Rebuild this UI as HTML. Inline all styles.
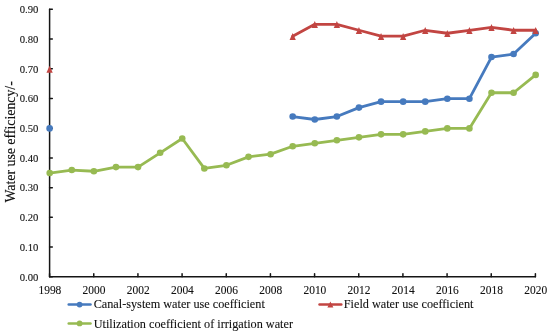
<!DOCTYPE html>
<html lang="en"><head><meta charset="utf-8"><title>Water use efficiency</title>
<style>html,body{margin:0;padding:0;background:#fff;width:550px;height:333px;overflow:hidden}</style></head>
<body>
<svg width="550" height="333" viewBox="0 0 550 333" style="display:block;position:absolute;left:0;top:0">
<rect width="550" height="333" fill="#fff"/>
<g stroke="#151515" stroke-width="1.5" fill="none" stroke-linecap="round" stroke-linejoin="round">
<polyline points="49.6,9.32 49.6,276.8 535.40,276.8"/>
<line x1="49.6" y1="276.80" x2="52.300000000000004" y2="276.80"/>
<line x1="49.6" y1="247.08" x2="52.300000000000004" y2="247.08"/>
<line x1="49.6" y1="217.36" x2="52.300000000000004" y2="217.36"/>
<line x1="49.6" y1="187.64" x2="52.300000000000004" y2="187.64"/>
<line x1="49.6" y1="157.92" x2="52.300000000000004" y2="157.92"/>
<line x1="49.6" y1="128.20" x2="52.300000000000004" y2="128.20"/>
<line x1="49.6" y1="98.48" x2="52.300000000000004" y2="98.48"/>
<line x1="49.6" y1="68.76" x2="52.300000000000004" y2="68.76"/>
<line x1="49.6" y1="39.04" x2="52.300000000000004" y2="39.04"/>
<line x1="49.6" y1="9.32" x2="52.300000000000004" y2="9.32"/>
<line x1="49.60" y1="276.8" x2="49.60" y2="273.7"/>
<line x1="93.76" y1="276.8" x2="93.76" y2="273.7"/>
<line x1="137.93" y1="276.8" x2="137.93" y2="273.7"/>
<line x1="182.09" y1="276.8" x2="182.09" y2="273.7"/>
<line x1="226.26" y1="276.8" x2="226.26" y2="273.7"/>
<line x1="270.42" y1="276.8" x2="270.42" y2="273.7"/>
<line x1="314.58" y1="276.8" x2="314.58" y2="273.7"/>
<line x1="358.75" y1="276.8" x2="358.75" y2="273.7"/>
<line x1="402.91" y1="276.8" x2="402.91" y2="273.7"/>
<line x1="447.08" y1="276.8" x2="447.08" y2="273.7"/>
<line x1="491.24" y1="276.8" x2="491.24" y2="273.7"/>
<line x1="535.40" y1="276.8" x2="535.40" y2="273.7"/>
</g>
<g font-family="'Liberation Serif', 'Times New Roman', serif" fill="#111" stroke="#111" stroke-width="0.1">
<text x="38.3" y="280.65" text-anchor="end" font-size="10.67">0.00</text>
<text x="38.3" y="250.93" text-anchor="end" font-size="10.67">0.10</text>
<text x="38.3" y="221.21" text-anchor="end" font-size="10.67">0.20</text>
<text x="38.3" y="191.49" text-anchor="end" font-size="10.67">0.30</text>
<text x="38.3" y="161.77" text-anchor="end" font-size="10.67">0.40</text>
<text x="38.3" y="132.05" text-anchor="end" font-size="10.67">0.50</text>
<text x="38.3" y="102.33" text-anchor="end" font-size="10.67">0.60</text>
<text x="38.3" y="72.61" text-anchor="end" font-size="10.67">0.70</text>
<text x="38.3" y="42.89" text-anchor="end" font-size="10.67">0.80</text>
<text x="38.3" y="13.17" text-anchor="end" font-size="10.67">0.90</text>
<text transform="translate(49.90,294.45) scale(0.955,1)" text-anchor="middle" font-size="12">1998</text>
<text transform="translate(94.06,294.45) scale(0.955,1)" text-anchor="middle" font-size="12">2000</text>
<text transform="translate(138.23,294.45) scale(0.955,1)" text-anchor="middle" font-size="12">2002</text>
<text transform="translate(182.39,294.45) scale(0.955,1)" text-anchor="middle" font-size="12">2004</text>
<text transform="translate(226.56,294.45) scale(0.955,1)" text-anchor="middle" font-size="12">2006</text>
<text transform="translate(270.72,294.45) scale(0.955,1)" text-anchor="middle" font-size="12">2008</text>
<text transform="translate(314.88,294.45) scale(0.955,1)" text-anchor="middle" font-size="12">2010</text>
<text transform="translate(359.05,294.45) scale(0.955,1)" text-anchor="middle" font-size="12">2012</text>
<text transform="translate(403.21,294.45) scale(0.955,1)" text-anchor="middle" font-size="12">2014</text>
<text transform="translate(447.38,294.45) scale(0.955,1)" text-anchor="middle" font-size="12">2016</text>
<text transform="translate(491.54,294.45) scale(0.955,1)" text-anchor="middle" font-size="12">2018</text>
<text transform="translate(535.70,294.45) scale(0.955,1)" text-anchor="middle" font-size="12">2020</text>
</g>
<g transform="translate(14.5,202.6) rotate(-90)" font-family="'Liberation Serif', 'Times New Roman', serif" font-size="13.66" fill="#111" stroke="#111" stroke-width="0.15"><text transform="scale(1.012,1)">Water use efficiency/-</text></g>
<polyline points="292.69,116.53 314.78,119.50 336.87,116.53 358.96,107.60 381.05,101.65 403.14,101.65 425.23,101.65 447.32,98.68 469.41,98.68 491.50,57.04 513.59,54.06 535.68,33.24" fill="none" stroke="#467abe" stroke-width="2.8" stroke-linejoin="round" stroke-linecap="round"/>
<circle cx="292.69" cy="116.53" r="3.3" fill="#467abe"/>
<circle cx="314.78" cy="119.50" r="3.3" fill="#467abe"/>
<circle cx="336.87" cy="116.53" r="3.3" fill="#467abe"/>
<circle cx="358.96" cy="107.60" r="3.3" fill="#467abe"/>
<circle cx="381.05" cy="101.65" r="3.3" fill="#467abe"/>
<circle cx="403.14" cy="101.65" r="3.3" fill="#467abe"/>
<circle cx="425.23" cy="101.65" r="3.3" fill="#467abe"/>
<circle cx="447.32" cy="98.68" r="3.3" fill="#467abe"/>
<circle cx="469.41" cy="98.68" r="3.3" fill="#467abe"/>
<circle cx="491.50" cy="57.04" r="3.3" fill="#467abe"/>
<circle cx="513.59" cy="54.06" r="3.3" fill="#467abe"/>
<circle cx="535.68" cy="33.24" r="3.3" fill="#467abe"/>
<circle cx="49.60" cy="128.42" r="3.3" fill="#467abe"/>
<polyline points="292.69,36.22 314.78,24.32 336.87,24.32 358.96,30.27 381.05,36.22 403.14,36.22 425.23,30.27 447.32,33.24 469.41,30.27 491.50,27.29 513.59,30.27 535.68,30.27" fill="none" stroke="#c24542" stroke-width="2.8" stroke-linejoin="round" stroke-linecap="round"/>
<polygon points="292.69,33.02 295.84,39.92 289.54,39.92" fill="#c24542"/>
<polygon points="314.78,21.12 317.93,28.02 311.63,28.02" fill="#c24542"/>
<polygon points="336.87,21.12 340.02,28.02 333.72,28.02" fill="#c24542"/>
<polygon points="358.96,27.07 362.11,33.97 355.81,33.97" fill="#c24542"/>
<polygon points="381.05,33.02 384.20,39.92 377.90,39.92" fill="#c24542"/>
<polygon points="403.14,33.02 406.29,39.92 399.99,39.92" fill="#c24542"/>
<polygon points="425.23,27.07 428.38,33.97 422.08,33.97" fill="#c24542"/>
<polygon points="447.32,30.04 450.47,36.94 444.17,36.94" fill="#c24542"/>
<polygon points="469.41,27.07 472.56,33.97 466.26,33.97" fill="#c24542"/>
<polygon points="491.50,24.09 494.65,30.99 488.35,30.99" fill="#c24542"/>
<polygon points="513.59,27.07 516.74,33.97 510.44,33.97" fill="#c24542"/>
<polygon points="535.68,27.07 538.83,33.97 532.53,33.97" fill="#c24542"/>
<polygon points="49.60,65.73 52.75,72.64 46.45,72.64" fill="#c24542"/>
<polyline points="49.70,173.04 71.79,170.07 93.88,171.26 115.97,167.09 138.06,167.09 160.15,152.82 182.24,138.54 204.33,168.43 226.42,165.31 248.51,156.83 270.60,154.18 292.69,146.27 314.78,143.30 336.87,140.32 358.96,137.35 381.05,134.37 403.14,134.37 425.23,131.40 447.32,128.42 469.41,128.42 491.50,92.73 513.59,92.73 535.68,74.88" fill="none" stroke="#97ba52" stroke-width="2.8" stroke-linejoin="round" stroke-linecap="round"/>
<circle cx="49.70" cy="173.04" r="3.3" fill="#97ba52"/>
<circle cx="71.79" cy="170.07" r="3.3" fill="#97ba52"/>
<circle cx="93.88" cy="171.26" r="3.3" fill="#97ba52"/>
<circle cx="115.97" cy="167.09" r="3.3" fill="#97ba52"/>
<circle cx="138.06" cy="167.09" r="3.3" fill="#97ba52"/>
<circle cx="160.15" cy="152.82" r="3.3" fill="#97ba52"/>
<circle cx="182.24" cy="138.54" r="3.3" fill="#97ba52"/>
<circle cx="204.33" cy="168.43" r="3.3" fill="#97ba52"/>
<circle cx="226.42" cy="165.31" r="3.3" fill="#97ba52"/>
<circle cx="248.51" cy="156.83" r="3.3" fill="#97ba52"/>
<circle cx="270.60" cy="154.18" r="3.3" fill="#97ba52"/>
<circle cx="292.69" cy="146.27" r="3.3" fill="#97ba52"/>
<circle cx="314.78" cy="143.30" r="3.3" fill="#97ba52"/>
<circle cx="336.87" cy="140.32" r="3.3" fill="#97ba52"/>
<circle cx="358.96" cy="137.35" r="3.3" fill="#97ba52"/>
<circle cx="381.05" cy="134.37" r="3.3" fill="#97ba52"/>
<circle cx="403.14" cy="134.37" r="3.3" fill="#97ba52"/>
<circle cx="425.23" cy="131.40" r="3.3" fill="#97ba52"/>
<circle cx="447.32" cy="128.42" r="3.3" fill="#97ba52"/>
<circle cx="469.41" cy="128.42" r="3.3" fill="#97ba52"/>
<circle cx="491.50" cy="92.73" r="3.3" fill="#97ba52"/>
<circle cx="513.59" cy="92.73" r="3.3" fill="#97ba52"/>
<circle cx="535.68" cy="74.88" r="3.3" fill="#97ba52"/>
<line x1="68.69999999999999" y1="304.6" x2="90.5" y2="304.6" stroke="#467abe" stroke-width="2.5" stroke-linecap="round"/><circle cx="79.60" cy="304.60" r="2.9" fill="#467abe"/><text x="93.7" y="308.2" font-family="'Liberation Serif', 'Times New Roman', serif" font-size="12.23" fill="#111" stroke="#111" stroke-width="0.1">Canal-system water use coefficient</text>
<line x1="319.5" y1="304.5" x2="341.29999999999995" y2="304.5" stroke="#c24542" stroke-width="2.5" stroke-linecap="round"/><polygon points="330.40,301.60 333.40,307.50 327.40,307.50" fill="#c24542"/><text x="343.8" y="308.2" font-family="'Liberation Serif', 'Times New Roman', serif" font-size="12.23" fill="#111" stroke="#111" stroke-width="0.1">Field water use coefficient</text>
<line x1="68.69999999999999" y1="323.4" x2="90.5" y2="323.4" stroke="#97ba52" stroke-width="2.5" stroke-linecap="round"/><circle cx="79.60" cy="323.40" r="2.9" fill="#97ba52"/><text x="93.7" y="327.6" font-family="'Liberation Serif', 'Times New Roman', serif" font-size="12.23" fill="#111" stroke="#111" stroke-width="0.1">Utilization coefficient of irrigation water</text>
</svg>
</body></html>
